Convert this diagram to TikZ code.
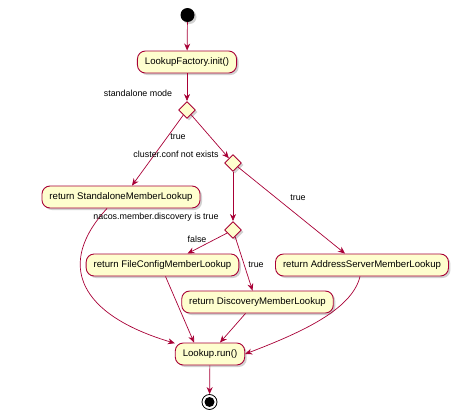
\documentclass[tikz,border=0pt]{standalone}
\usepackage{fontspec}
\setmainfont{Liberation Sans}
\usetikzlibrary{shapes.geometric,shadows,arrows.meta}
\definecolor{umlred}{HTML}{A80036}
\definecolor{umlfill}{HTML}{FEFECE}
\begin{document}
\begin{tikzpicture}[x=1pt, y=-1pt, line join=round, >={Stealth[length=7pt,width=6pt]},
	shade/.style={drop shadow={shadow xshift=2pt, shadow yshift=-2pt, opacity=0.3, fill=black!60}},
	act/.style={draw=umlred, fill=umlfill, line width=0.9pt, rounded corners=8pt, minimum height=22pt, inner xsep=7.5pt, font=\fontsize{9.6}{11}\selectfont, shade},
	cond/.style={diamond, draw=umlred, fill=umlfill, line width=0.9pt, minimum size=17pt, inner sep=0pt, shade},
	flow/.style={->, umlred, line width=0.7pt},
	lbl/.style={font=\fontsize{8.9}{10}\selectfont, inner sep=0pt}]
	\useasboundingbox (0,0) rectangle (474,415);
	\node[circle, fill=black, minimum size=14pt, inner sep=0pt, shade] (start) at (187.5,15) {};
	\node[act] (init) at (187,62) {LookupFactory.init()};
	\node[cond] (d1) at (187,110) {};
	\node[cond] (d2) at (233,163) {};
	\node[cond] (d3) at (233,230) {};
	\node[act] (sa) at (121,197) {return StandaloneMemberLookup};
	\node[act] (fc) at (162.5,265) {return FileConfigMemberLookup};
	\node[act] (dl) at (257.5,302) {return DiscoveryMemberLookup};
	\node[act] (as) at (362,265) {return AddressServerMemberLookup};
	\node[act] (run) at (210,354) {Lookup.run()};
	\node[circle, draw=black, fill=white, line width=0.8pt, minimum size=15pt, inner sep=0pt] (stop) at (209.5,402) {};
	\fill (stop) circle (5pt);
	\draw[flow] (start) -- (init);
	\draw[flow] (init) -- (d1);
	\draw[flow] (d1) -- ([xshift=11pt]sa.north);
	\draw[flow] (d1) -- (d2);
	\draw[flow] (d2) -- (d3);
	\draw[flow] (d2) -- ([xshift=-17pt]as.north);
	\draw[flow] (d3) -- ([xshift=25pt]fc.north);
	\draw[flow] (d3) -- ([xshift=-5pt]dl.north);
	\draw[flow] ([xshift=-14pt]sa.south) .. controls (55,265) and (80,315) .. (run.163);
	\draw[flow] ([xshift=3pt]fc.south) -- ([xshift=-16pt]run.north);
	\draw[flow] ([xshift=-12pt]dl.south) -- ([xshift=10pt]run.north);
	\draw[flow] ([xshift=-2pt]as.south) .. controls (352,310) and (300,333) .. (run.east);
	\draw[flow] (run) -- (stop);
	\node[lbl] (l1) at (138,93) {standalone mode};
	\node[lbl] (t1) at (178,137) {true};
	\node[lbl] (l2) at (176,154) {cluster.conf not exists};
	\node[lbl] (t2) at (298,198) {true};
	\node[lbl] (l3) at (156,217) {nacos.member.discovery is true};
	\node[lbl] (f3) at (197,239) {false};
	\node[lbl] (t3) at (256,265) {true};
\end{tikzpicture}
\end{document}
